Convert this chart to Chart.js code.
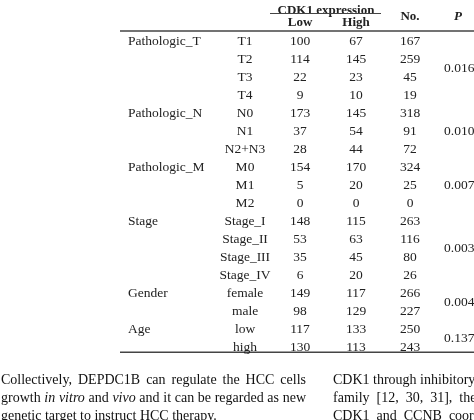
<!DOCTYPE html>
<html><head><meta charset="utf-8">
<script src="https://cdn.jsdelivr.net/npm/chart.js@4/dist/chart.umd.min.js"></script>
<style>html,body{margin:0;padding:0;background:#fff;overflow:hidden}</style>
</head><body>
<canvas id="c" width="474" height="420"></canvas>
<script>
const groups = ["Pathologic_T","","","","Pathologic_N","","","Pathologic_M","","","Stage","","","","Gender","","Age",""];
const subgroups = ["T1","T2","T3","T4","N0","N1","N2+N3","M0","M1","M2","Stage_I","Stage_II","Stage_III","Stage_IV","female","male","low","high"];
const lowVals = [100,114,22,9,173,37,28,154,5,0,148,53,35,6,149,98,117,130];
const highVals = [67,145,23,10,145,54,44,170,20,0,115,63,45,20,117,129,133,113];
const totals = [167,259,45,19,318,91,72,324,25,0,263,116,80,26,266,227,250,243];
const pValues = ["0.016","0.010","0.007","0.003","0.004","0.137"];
const pSpans = [[0,3],[4,6],[7,9],[10,13],[14,15],[16,17]];
const paragraphRight = ["CDK1 through inhibitory pho","family  [12,  30,  31],  there","CDK1  and  CCNB  coordinate"];

const F = 'Liberation Serif, "Times New Roman", serif';
function justify(ctx, segs, x0, width, y){
  // segs: [[text, italic]]
  const words=[];
  segs.forEach(([t,it])=>t.split(' ').forEach((w,i)=>{ if(w) words.push([w,it,i===0&&words.length>0&&!t.startsWith(' ')]); }));
  let total=0;
  words.forEach(w=>{ctx.font=(w[1]?'italic ':'')+'14px '+F; total+=ctx.measureText(w[0]).width;});
  const gaps=words.length-1, gap=(width-total)/gaps;
  let x=x0;
  words.forEach(w=>{ctx.font=(w[1]?'italic ':'')+'14px '+F; ctx.fillText(w[0],x,y); x+=ctx.measureText(w[0]).width+gap;});
}
const tablePlugin = {
  id:'table',
  afterDraw(chart){
    const ctx = chart.ctx, xs = chart.scales.x, ys = chart.scales.y;
    const X = v=>xs.getPixelForValue(v), Y = v=>ys.getPixelForValue(v);
    ctx.save();
    ctx.fillStyle='#222'; ctx.strokeStyle='#444'; ctx.textBaseline='middle';
    ctx.font='bold 13px '+F; ctx.textAlign='center';
    ctx.fillText('CDK1 expression', X(326), Y(-1.55));
    ctx.fillText('Low', X(300), Y(-0.85));
    ctx.fillText('High', X(356), Y(-0.85));
    ctx.fillText('No.', X(410), Y(-1.19));
    ctx.font='bold italic 13px '+F;
    ctx.fillText('P', X(458), Y(-1.19));
    ctx.lineWidth=1;
    ctx.beginPath(); ctx.moveTo(X(270),Y(-1.38)); ctx.lineTo(X(381),Y(-1.38)); ctx.stroke();
    ctx.lineWidth=1.5;
    ctx.beginPath(); ctx.moveTo(X(120),Y(-0.41)); ctx.lineTo(X(474),Y(-0.41)); ctx.stroke();
    ctx.beginPath(); ctx.moveTo(X(120),Y(17.43)); ctx.lineTo(X(474),Y(17.43)); ctx.stroke();
    ctx.font='13.5px '+F;
    subgroups.forEach((s,i)=>{
      const y=Y(i+0.15);
      ctx.textAlign='left'; if(groups[i]) ctx.fillText(groups[i], X(128), y);
      ctx.textAlign='center';
      ctx.fillText(s, X(245), y);
      ctx.fillText(String(lowVals[i]), X(300), y);
      ctx.fillText(String(highVals[i]), X(356), y);
      ctx.fillText(String(totals[i]), X(410), y);
    });
    pValues.forEach((p,k)=>{
      ctx.textAlign='left';
      ctx.fillText(p, X(444), Y((pSpans[k][0]+pSpans[k][1])/2+0.15));
    });
    ctx.fillStyle='#111'; ctx.textAlign='left';
    const lineY=[18.98,19.98,20.98];
    justify(ctx,[['Collectively, DEPDC1B can regulate the HCC cells',false]],X(1),305,Y(lineY[0]));
    justify(ctx,[['growth',false],['in vitro',true],['and',false],['vivo',true],['and it can be regarded as new',false]],X(1),305,Y(lineY[1]));
    ctx.font='14px '+F;
    ctx.fillText('genetic target to instruct HCC therapy.', X(1), Y(lineY[2]));
    paragraphRight.forEach((t,i)=>ctx.fillText(t, X(333), Y(lineY[i])));
    ctx.restore();
  }
};
new Chart(document.getElementById('c'),{
  type:'scatter',
  data:{datasets:[{data:subgroups.map((s,i)=>({x:totals[i],y:i})),pointRadius:0}]},
  options:{responsive:false,animation:false,devicePixelRatio:1,
    layout:{padding:0},
    plugins:{legend:{display:false},tooltip:{enabled:false}},
    scales:{
      x:{type:'linear',min:0,max:474,display:false},
      y:{type:'linear',min:-2.13,max:21.2,reverse:true,display:false}
    }},
  plugins:[tablePlugin]
});
</script>
</body></html>
